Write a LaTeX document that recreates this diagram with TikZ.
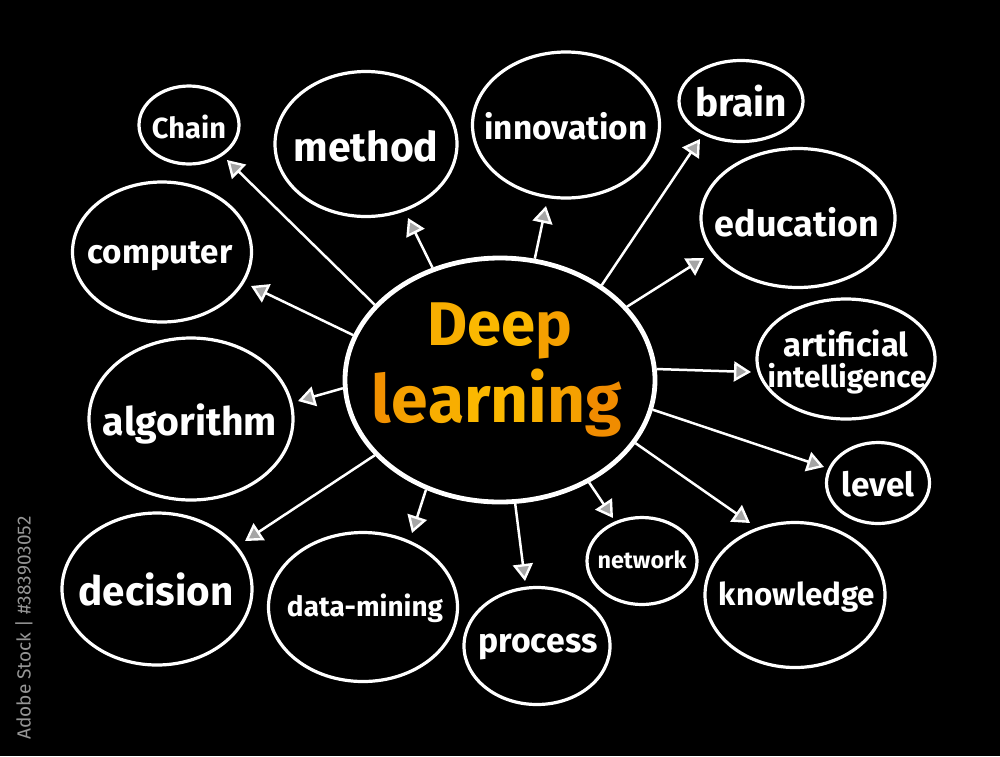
\documentclass[tikz,border=0pt]{standalone}
\usepackage{fontspec}
\setmainfont{Fira Sans}
\usetikzlibrary{shapes.geometric,arrows.meta}
\definecolor{hatch}{RGB}{165,165,165}
\definecolor{wm}{RGB}{150,150,150}
\definecolor{oA}{RGB}{242,145,0}
\definecolor{oB}{RGB}{245,160,0}
\definecolor{oC}{RGB}{248,174,0}
\definecolor{oD}{RGB}{251,184,0}
\definecolor{oE}{RGB}{240,140,0}
\newcommand{\tw}[2]{\resizebox{#1pt}{!}{\bfseries #2}}
\tikzset{
  bubble/.style={ellipse, draw=white, line width=3.2pt, inner sep=0pt},
  word/.style={text=white, inner sep=0pt},
  hub/.style={ellipse, draw=white, line width=4.8pt, inner sep=0pt},
  arr/.style={draw=white, line width=2.5pt,
    -{Triangle[length=17pt,width=20pt,fill=hatch,line width=2.4pt]}}
}
\begin{document}
\begin{tikzpicture}[x=1pt,y=-1pt]
\fill[black] (0,0) rectangle (1000,756);
\useasboundingbox (0,0) rectangle (1000,756);

% hub
\node[hub, minimum width=310pt, minimum height=244pt] (c) at (500,380) {};
\node[inner sep=0pt] (deep) at (500,331) {\tw{145}{\color{oC}D\color{oD}e\color{oD}e\color{oB}p}};
\node[inner sep=0pt] (learn) at (497,403) {\tw{250}{\color{oA}l\color{oB}e\color{oC}a\color{oD}r\color{oD}n\color{oC}i\color{oB}n\color{oE}g}};

% satellites (outlines)
\node[bubble, minimum width=100pt, minimum height=78pt]  (chain) at (189,125) {};
\node[bubble, minimum width=182pt, minimum height=145pt] (method) at (366,144) {};
\node[bubble, minimum width=187pt, minimum height=146pt] (innov) at (566,125) {};
\node[bubble, minimum width=124pt, minimum height=81pt]  (brain) at (741,101) {};
\node[bubble, minimum width=194pt, minimum height=139pt] (edu) at (798,218) {};
\node[bubble, minimum width=178pt, minimum height=120pt] (ai) at (846,359) {};
\node[bubble, minimum width=103pt, minimum height=81pt]  (level) at (878,483) {};
\node[bubble, minimum width=180pt, minimum height=145pt] (know) at (795,595) {};
\node[bubble, minimum width=110pt, minimum height=87pt]  (net) at (642,561) {};
\node[bubble, minimum width=146pt, minimum height=117pt] (proc) at (537,646) {};
\node[bubble, minimum width=189pt, minimum height=149pt] (dm) at (363,607) {};
\node[bubble, minimum width=190pt, minimum height=152pt] (dec) at (157,589) {};
\node[bubble, minimum width=204pt, minimum height=162pt] (algo) at (191,419) {};
\node[bubble, minimum width=179pt, minimum height=140pt] (comp) at (162,252) {};

% satellite texts
\node[word] (chainT) at (189,127) {\tw{74}{Chain}};
\node[word] (methodT) at (366,146) {\tw{145}{method}};
\node[word] (innovT) at (566,126) {\tw{163}{innovation}};
\node[word] (brainT) at (741,101) {\tw{92}{brain}};
\node[word] (eduT) at (797,222) {\tw{164}{education}};
\node[word] (aiT1) at (846,343) {\tw{125}{artificial}};
\node[word] (aiT2) at (847,379) {\tw{159}{intelligence}};
\node[word] (levelT) at (878,484) {\tw{73}{level}};
\node[word] (knowT) at (797,597) {\tw{156}{knowledge}};
\node[word] (netT) at (642,560) {\tw{89}{network}};
\node[word] (procT) at (538,647) {\tw{119}{process}};
\node[word] (dmT) at (365,608) {\tw{156}{data-mining}};
\node[word] (decT) at (156,589) {\tw{155}{decision}};
\node[word] (algoT) at (190,424) {\tw{174}{algorithm}};
\node[word] (compT) at (160,256) {\tw{145}{computer}};

% arrow tips
\coordinate (tchain) at (227,160);
\coordinate (tmethod) at (408,218);
\coordinate (tinnov) at (546,206);
\coordinate (tbrain) at (700,139);
\coordinate (tedu) at (704,258);
\coordinate (tai) at (751,372);
\coordinate (tlevel) at (824,467);
\coordinate (tknow) at (750,523);
\coordinate (tnet) at (613,518);
\coordinate (tproc) at (525,581);
\coordinate (tdm) at (412,533);
\coordinate (tdec) at (245,541);
\coordinate (talgo) at (298,401);
\coordinate (tcomp) at (251,286);

\draw[arr] (c.149) -- (tchain);
\draw[arr] (c.121) -- (tmethod);
\draw[arr] (c.74) -- (tinnov);
\draw[arr] (c.43) -- (tbrain);
\draw[arr] (c.30) -- (tedu);
\draw[arr] (c.4) -- (tai);
\draw[arr] (c.-11) -- (tlevel);
\draw[arr] (c.-25) -- (tknow);
\draw[arr] (c.-49) -- (tnet);
\draw[arr] (c.-83) -- (tproc);
\draw[arr] (c.236) -- (tdm);
\draw[arr] (c.211) -- (tdec);
\draw[arr] (c.183) -- (talgo);
\draw[arr] (c.163) -- (tcomp);

% side credit
\node[rotate=90, text=wm, inner sep=0pt] (credit) at (24,628)
  {\resizebox{223pt}{!}{Adobe Stock | \#383903052}};
\end{tikzpicture}
\end{document}
